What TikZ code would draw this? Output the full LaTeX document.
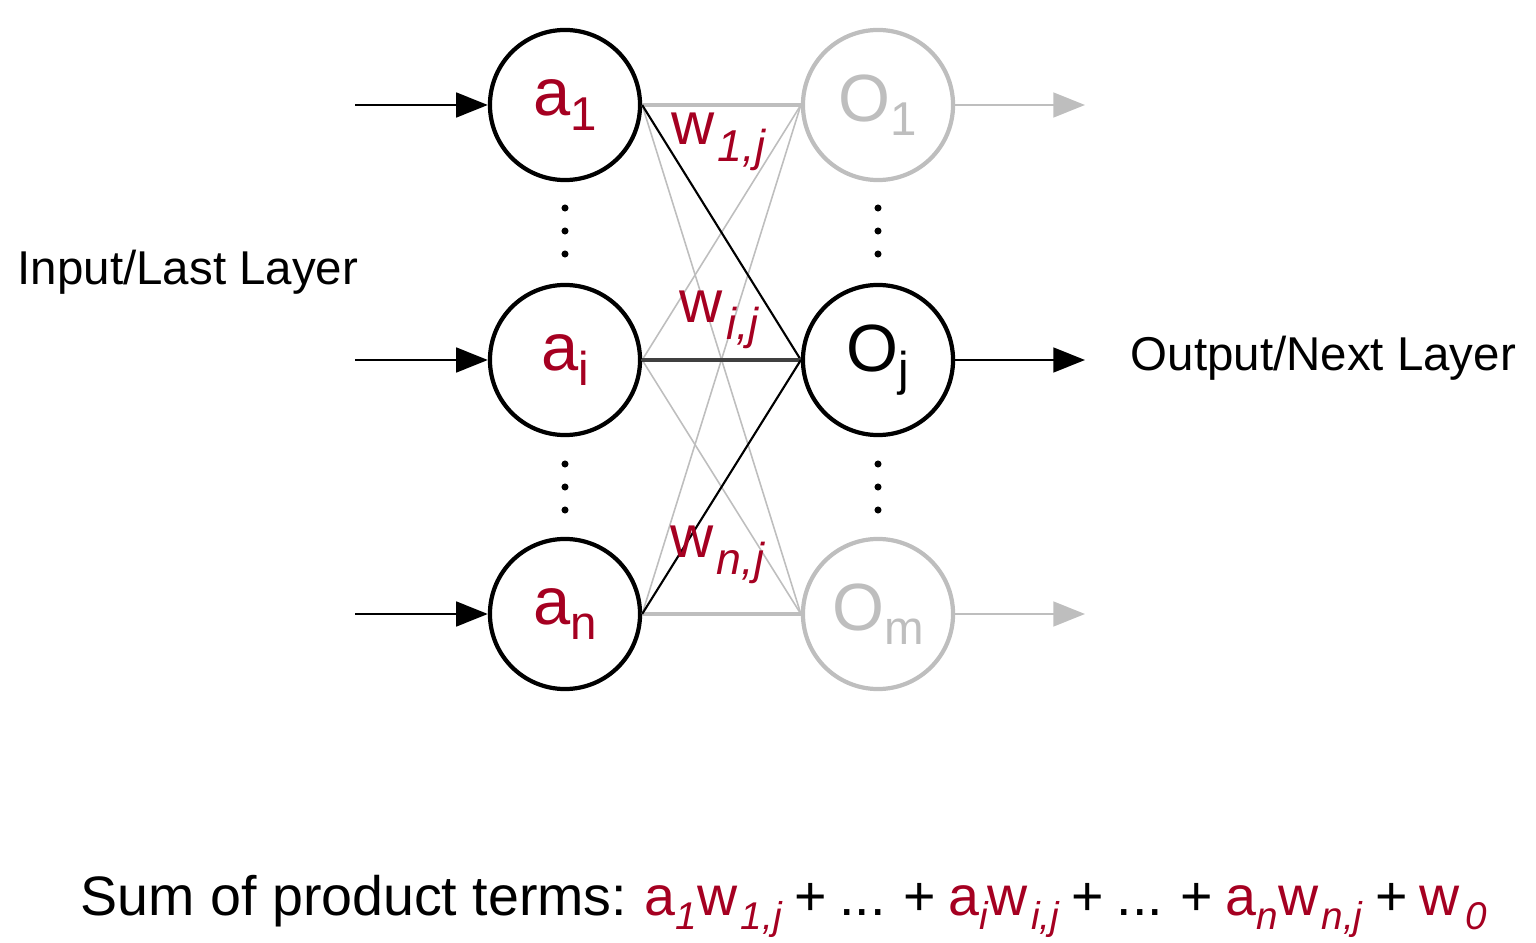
\documentclass[tikz,border=0pt]{standalone}
\usepackage{fontspec}
\setmainfont{Liberation Sans}
\usetikzlibrary{arrows.meta}
\definecolor{wred}{RGB}{165,0,33}
\definecolor{lgray}{RGB}{190,190,190}
\newcommand\mysub[3]{\raisebox{#2}{\fontsize{#1}{#1}\selectfont #3}}
\begin{document}
\begin{tikzpicture}[x=0.01cm,y=-0.01cm,
  neuron/.style={circle, draw, line width=1.2pt, minimum size=1.5cm, inner sep=0pt, font=\fontsize{19}{22}\selectfont},
  inneuron/.style={neuron, draw=black, text=wred},
  onneuron/.style={neuron, draw=black, text=black},
  offneuron/.style={neuron, draw=lgray, text=lgray},
  wlabel/.style={text=wred, font=\fontsize{17}{20}\selectfont, inner sep=0pt},
  layerlabel/.style={font=\fontsize{13.5}{16}\selectfont, inner sep=0pt},
  inarrow/.style={-{Triangle[length=9pt,width=7pt]}, line width=0.8pt, black},
  offarrow/.style={-{Triangle[length=9pt,width=7pt]}, line width=0.8pt, lgray},
  graylink/.style={lgray, line width=0.45pt},
  grayh/.style={lgray, line width=0.9pt},
  blacklink/.style={black, line width=0.6pt},
  blackh/.style={black!75, line width=1pt}]
\useasboundingbox (0,0) rectangle (1536,943);
% neurons
\node[inneuron] (a1) at (565,105) {a\mysub{13.5}{-4pt}{1}};
\node[inneuron] (ai) at (565,360) {a\mysub{13.5}{-4pt}{i}};
\node[inneuron] (an) at (565,614) {a\mysub{13.5}{-4pt}{n}};
\node[offneuron] (o1) at (878,105) {O\mysub{13.5}{-4pt}{1}};
\node[onneuron] (oj) at (878,360) {O\mysub{13.5}{-4pt}{j}};
\node[offneuron] (om) at (878,614) {O\mysub{13.5}{-4pt}{m}};
% free ends
\coordinate (in1) at (355,105);
\coordinate (ini) at (355,360);
\coordinate (inn) at (355,614);
\coordinate (out1) at (1085,105);
\coordinate (outj) at (1085,360);
\coordinate (outm) at (1085,614);
% links
\draw[grayh] (a1.east) -- (o1.west);
\draw[grayh] (an.east) -- (om.west);
\draw[graylink] (a1.east) -- (om.west);
\draw[graylink] (ai.east) -- (o1.west);
\draw[graylink] (ai.east) -- (om.west);
\draw[graylink] (an.east) -- (o1.west);
\draw[blacklink] (a1.east) -- (oj.west);
\draw[blackh] (ai.east) -- (oj.west);
\draw[blacklink] (an.east) -- (oj.west);
% input / output arrows
\draw[inarrow] (in1) -- (a1);
\draw[inarrow] (ini) -- (ai);
\draw[inarrow] (inn) -- (an);
\draw[offarrow] (o1) -- (out1);
\draw[inarrow] (oj) -- (outj);
\draw[offarrow] (om) -- (outm);
% dots
\foreach \x in {565,878}
  \foreach \y in {208,231,254,464,487,510}
    \fill[black] (\x,\y) circle (1pt);
% weight labels
\node[wlabel] (w1) at (718,142) {w\kern1pt\mysub{12.7}{-4.8pt}{\itshape 1,j}};
\node[wlabel] (wi) at (719,320) {w\kern1pt\mysub{12.7}{-4.8pt}{\itshape i,j}};
\node[wlabel] (wn) at (717,555) {w\kern1pt\mysub{12.7}{-4.8pt}{\itshape n,j}};
% layer labels
\node[layerlabel, anchor=west] (inlabel) at (17,272) {Input/Last Layer};
\node[layerlabel, anchor=west] (outlabel) at (1130,358) {Output/Next Layer};
% sum
\node[anchor=base west, inner sep=0pt, font=\fontsize{15.8}{19}\selectfont] (sum) at (80,915)
 {Sum of product terms:{\spaceskip=0.225em\relax{} \textcolor{wred}{a\mysub{11}{-4pt}{\itshape 1}w\kern1pt\mysub{11}{-4pt}{\itshape 1,j}} + ... + \textcolor{wred}{a\mysub{11}{-4pt}{\itshape i}w\kern1pt\mysub{11}{-4pt}{\itshape i,j}} + ... + \textcolor{wred}{a\mysub{11}{-4pt}{\itshape n}w\kern1pt\mysub{11}{-4pt}{\itshape n,j}} + \textcolor{wred}{w\kern1.5pt\mysub{11}{-4pt}{\itshape 0}}}};
\end{tikzpicture}
\end{document}
